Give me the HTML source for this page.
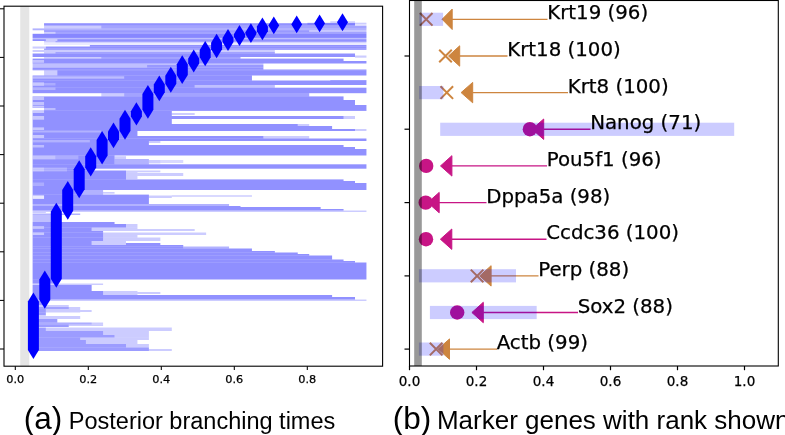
<!DOCTYPE html>
<html><head><meta charset="utf-8"><title>figure</title>
<style>html,body{margin:0;padding:0;background:#fff;}body{width:785px;height:435px;overflow:hidden;}svg{display:block;}.tk{font-family:"DejaVu Sans","Liberation Sans",sans-serif;fill:#000;stroke:#000;stroke-width:0.25px;}.cap{font-family:"Liberation Sans",Arial,Helvetica,sans-serif;fill:#000;}</style></head><body>
<svg width="785" height="435" viewBox="0 0 785 435">
<rect x="0" y="0" width="785" height="435" fill="#fff"/>
<g id="left">
<rect x="20.2" y="6.2" width="9.1" height="360.0" fill="#000" fill-opacity="0.1"/>
<g fill="#0000ff">
<rect x="330.30" y="21.30" width="24.70" height="1.40" fill-opacity="0.200"/>
<rect x="307.40" y="22.70" width="59.05" height="1.90" fill-opacity="0.200"/>
<rect x="44.05" y="23.20" width="310.95" height="2.40" fill-opacity="0.430"/>
<rect x="44.05" y="25.60" width="322.40" height="2.80" fill-opacity="0.200"/>
<rect x="101.30" y="25.60" width="265.15" height="2.80" fill-opacity="0.200"/>
<rect x="32.60" y="28.40" width="333.85" height="1.90" fill-opacity="0.300"/>
<rect x="44.05" y="30.30" width="265.15" height="1.50" fill-opacity="0.430"/>
<rect x="309.20" y="30.30" width="57.25" height="1.50" fill-opacity="0.200"/>
<rect x="44.05" y="31.80" width="322.40" height="2.00" fill-opacity="0.200"/>
<rect x="55.50" y="31.80" width="310.95" height="2.00" fill-opacity="0.200"/>
<rect x="32.60" y="33.80" width="333.85" height="4.10" fill-opacity="0.470"/>
<rect x="32.60" y="37.90" width="333.85" height="1.30" fill-opacity="0.250"/>
<rect x="32.60" y="39.20" width="13.25" height="1.80" fill-opacity="0.430"/>
<rect x="45.85" y="39.20" width="11.45" height="1.80" fill-opacity="0.200"/>
<rect x="57.30" y="39.20" width="309.15" height="1.80" fill-opacity="0.430"/>
<rect x="44.05" y="41.00" width="322.40" height="1.30" fill-opacity="0.200"/>
<rect x="55.50" y="41.00" width="310.95" height="1.30" fill-opacity="0.200"/>
<rect x="44.05" y="42.30" width="322.40" height="2.70" fill-opacity="0.080"/>
<rect x="89.85" y="45.00" width="276.60" height="1.50" fill-opacity="0.430"/>
<rect x="32.60" y="46.50" width="13.25" height="2.10" fill-opacity="0.200"/>
<rect x="45.85" y="46.50" width="320.60" height="2.10" fill-opacity="0.430"/>
<rect x="44.05" y="48.60" width="322.40" height="1.40" fill-opacity="0.360"/>
<rect x="32.60" y="50.00" width="13.25" height="2.00" fill-opacity="0.200"/>
<rect x="45.85" y="50.00" width="229.00" height="2.00" fill-opacity="0.200"/>
<rect x="44.05" y="52.00" width="230.80" height="1.50" fill-opacity="0.200"/>
<rect x="55.50" y="52.00" width="219.35" height="1.50" fill-opacity="0.200"/>
<rect x="32.60" y="53.50" width="322.40" height="3.50" fill-opacity="0.430"/>
<rect x="355.00" y="55.50" width="11.45" height="2.20" fill-opacity="0.200"/>
<rect x="44.05" y="57.00" width="196.45" height="1.60" fill-opacity="0.200"/>
<rect x="101.30" y="57.00" width="139.20" height="1.60" fill-opacity="0.200"/>
<rect x="32.60" y="58.60" width="310.95" height="2.40" fill-opacity="0.430"/>
<rect x="32.60" y="61.00" width="333.85" height="2.50" fill-opacity="0.430"/>
<rect x="32.60" y="63.50" width="230.80" height="4.20" fill-opacity="0.250"/>
<rect x="147.10" y="65.00" width="116.30" height="2.50" fill-opacity="0.200"/>
<rect x="32.60" y="67.70" width="230.80" height="1.80" fill-opacity="0.430"/>
<rect x="32.60" y="69.50" width="333.85" height="0.80" fill-opacity="0.430"/>
<rect x="44.05" y="70.30" width="13.25" height="5.20" fill-opacity="0.200"/>
<rect x="57.30" y="70.30" width="309.15" height="5.20" fill-opacity="0.430"/>
<rect x="32.60" y="75.50" width="219.35" height="5.00" fill-opacity="0.430"/>
<rect x="330.30" y="80.00" width="36.15" height="1.00" fill-opacity="0.200"/>
<rect x="32.60" y="80.50" width="333.85" height="4.50" fill-opacity="0.430"/>
<rect x="32.60" y="85.00" width="162.10" height="2.70" fill-opacity="0.430"/>
<rect x="194.70" y="85.00" width="80.15" height="2.70" fill-opacity="0.250"/>
<rect x="32.60" y="87.70" width="333.85" height="5.50" fill-opacity="0.430"/>
<rect x="101.30" y="93.20" width="207.90" height="3.20" fill-opacity="0.200"/>
<rect x="124.20" y="93.20" width="185.00" height="3.20" fill-opacity="0.200"/>
<rect x="32.60" y="96.40" width="310.95" height="3.60" fill-opacity="0.430"/>
<rect x="32.60" y="100.00" width="322.40" height="5.00" fill-opacity="0.430"/>
<rect x="32.60" y="105.00" width="333.85" height="2.00" fill-opacity="0.430"/>
<rect x="32.60" y="107.00" width="333.85" height="1.00" fill-opacity="0.430"/>
<rect x="44.05" y="108.00" width="322.40" height="2.40" fill-opacity="0.430"/>
<rect x="32.60" y="110.40" width="333.85" height="0.60" fill-opacity="0.430"/>
<rect x="32.60" y="111.00" width="139.20" height="2.00" fill-opacity="0.430"/>
<rect x="32.60" y="113.00" width="139.20" height="2.00" fill-opacity="0.430"/>
<rect x="171.80" y="113.00" width="22.90" height="2.00" fill-opacity="0.200"/>
<rect x="32.60" y="115.00" width="139.20" height="1.00" fill-opacity="0.430"/>
<rect x="32.60" y="116.00" width="310.95" height="3.00" fill-opacity="0.430"/>
<rect x="343.55" y="116.00" width="11.45" height="3.00" fill-opacity="0.200"/>
<rect x="32.60" y="119.00" width="139.20" height="5.00" fill-opacity="0.430"/>
<rect x="32.60" y="124.00" width="265.15" height="2.00" fill-opacity="0.430"/>
<rect x="297.75" y="124.00" width="11.45" height="2.00" fill-opacity="0.200"/>
<rect x="32.60" y="126.00" width="299.50" height="3.00" fill-opacity="0.430"/>
<rect x="32.60" y="129.00" width="322.40" height="2.00" fill-opacity="0.430"/>
<rect x="355.00" y="129.00" width="11.45" height="2.00" fill-opacity="0.200"/>
<rect x="32.60" y="131.00" width="104.85" height="5.00" fill-opacity="0.430"/>
<rect x="32.60" y="136.00" width="230.80" height="2.50" fill-opacity="0.430"/>
<rect x="263.40" y="136.00" width="45.80" height="2.50" fill-opacity="0.200"/>
<rect x="32.60" y="138.50" width="333.85" height="2.50" fill-opacity="0.430"/>
<rect x="32.60" y="141.00" width="116.30" height="4.00" fill-opacity="0.430"/>
<rect x="148.90" y="141.00" width="11.45" height="2.00" fill-opacity="0.200"/>
<rect x="32.60" y="145.00" width="310.95" height="2.00" fill-opacity="0.430"/>
<rect x="32.60" y="147.00" width="322.40" height="2.00" fill-opacity="0.430"/>
<rect x="32.60" y="149.00" width="333.85" height="6.50" fill-opacity="0.430"/>
<rect x="32.60" y="155.50" width="81.95" height="3.50" fill-opacity="0.430"/>
<rect x="114.55" y="156.20" width="11.45" height="2.80" fill-opacity="0.200"/>
<rect x="32.60" y="159.00" width="81.95" height="5.30" fill-opacity="0.430"/>
<rect x="114.55" y="159.00" width="34.35" height="5.30" fill-opacity="0.300"/>
<rect x="148.90" y="160.00" width="11.45" height="3.40" fill-opacity="0.200"/>
<rect x="160.35" y="160.00" width="22.90" height="3.00" fill-opacity="0.150"/>
<rect x="32.60" y="164.30" width="333.85" height="4.40" fill-opacity="0.430"/>
<rect x="32.60" y="168.70" width="59.05" height="1.80" fill-opacity="0.430"/>
<rect x="32.60" y="170.50" width="93.40" height="5.50" fill-opacity="0.430"/>
<rect x="126.00" y="170.50" width="34.35" height="1.80" fill-opacity="0.200"/>
<rect x="126.00" y="172.30" width="11.45" height="6.70" fill-opacity="0.200"/>
<rect x="137.45" y="173.00" width="45.80" height="3.00" fill-opacity="0.200"/>
<rect x="32.60" y="176.00" width="93.40" height="3.40" fill-opacity="0.430"/>
<rect x="32.60" y="179.40" width="310.95" height="1.60" fill-opacity="0.430"/>
<rect x="32.60" y="181.00" width="322.40" height="2.00" fill-opacity="0.430"/>
<rect x="32.60" y="183.00" width="333.85" height="7.00" fill-opacity="0.430"/>
<rect x="32.60" y="190.00" width="47.60" height="4.60" fill-opacity="0.430"/>
<rect x="80.20" y="190.00" width="22.90" height="4.60" fill-opacity="0.300"/>
<rect x="103.10" y="192.00" width="11.45" height="1.70" fill-opacity="0.200"/>
<rect x="32.60" y="194.60" width="116.30" height="5.40" fill-opacity="0.430"/>
<rect x="148.90" y="195.50" width="22.90" height="2.50" fill-opacity="0.200"/>
<rect x="171.80" y="195.00" width="80.15" height="2.00" fill-opacity="0.150"/>
<rect x="32.60" y="200.00" width="116.30" height="4.00" fill-opacity="0.430"/>
<rect x="32.60" y="204.00" width="196.45" height="2.00" fill-opacity="0.300"/>
<rect x="32.60" y="206.00" width="207.90" height="1.00" fill-opacity="0.430"/>
<rect x="32.60" y="207.00" width="288.05" height="2.00" fill-opacity="0.430"/>
<rect x="32.60" y="209.00" width="310.95" height="1.50" fill-opacity="0.430"/>
<rect x="32.60" y="210.50" width="333.85" height="1.50" fill-opacity="0.200"/>
<rect x="32.60" y="212.00" width="13.25" height="1.00" fill-opacity="0.200"/>
<rect x="32.60" y="213.50" width="47.60" height="1.50" fill-opacity="0.300"/>
<rect x="32.60" y="215.00" width="24.70" height="7.00" fill-opacity="0.250"/>
<rect x="32.60" y="222.00" width="81.95" height="2.00" fill-opacity="0.430"/>
<rect x="32.60" y="224.00" width="93.40" height="3.50" fill-opacity="0.430"/>
<rect x="126.00" y="224.00" width="11.45" height="3.50" fill-opacity="0.200"/>
<rect x="32.60" y="227.50" width="59.05" height="1.50" fill-opacity="0.430"/>
<rect x="91.65" y="227.50" width="45.80" height="1.50" fill-opacity="0.200"/>
<rect x="32.60" y="229.00" width="59.05" height="2.00" fill-opacity="0.430"/>
<rect x="91.65" y="229.00" width="103.05" height="2.00" fill-opacity="0.200"/>
<rect x="32.60" y="231.00" width="70.50" height="1.50" fill-opacity="0.430"/>
<rect x="32.60" y="232.50" width="70.50" height="2.50" fill-opacity="0.430"/>
<rect x="103.10" y="232.50" width="103.05" height="2.50" fill-opacity="0.200"/>
<rect x="32.60" y="235.00" width="70.50" height="2.50" fill-opacity="0.430"/>
<rect x="103.10" y="235.00" width="34.35" height="2.50" fill-opacity="0.200"/>
<rect x="32.60" y="237.50" width="70.50" height="3.50" fill-opacity="0.430"/>
<rect x="103.10" y="237.50" width="57.25" height="3.50" fill-opacity="0.200"/>
<rect x="32.60" y="241.00" width="59.05" height="2.00" fill-opacity="0.430"/>
<rect x="91.65" y="241.00" width="34.35" height="2.00" fill-opacity="0.200"/>
<rect x="32.60" y="243.00" width="59.05" height="2.00" fill-opacity="0.430"/>
<rect x="91.65" y="243.00" width="34.35" height="2.00" fill-opacity="0.200"/>
<rect x="126.00" y="243.00" width="34.35" height="2.00" fill-opacity="0.430"/>
<rect x="32.60" y="245.00" width="150.65" height="1.50" fill-opacity="0.430"/>
<rect x="32.60" y="246.50" width="150.65" height="2.00" fill-opacity="0.430"/>
<rect x="183.25" y="246.50" width="45.80" height="2.00" fill-opacity="0.300"/>
<rect x="32.60" y="248.50" width="219.35" height="2.50" fill-opacity="0.430"/>
<rect x="32.60" y="251.00" width="242.25" height="1.50" fill-opacity="0.430"/>
<rect x="32.60" y="252.50" width="265.15" height="1.50" fill-opacity="0.430"/>
<rect x="32.60" y="254.00" width="276.60" height="1.50" fill-opacity="0.430"/>
<rect x="32.60" y="255.50" width="299.50" height="4.00" fill-opacity="0.430"/>
<rect x="32.60" y="259.50" width="310.95" height="1.50" fill-opacity="0.430"/>
<rect x="32.60" y="261.00" width="322.40" height="1.50" fill-opacity="0.430"/>
<rect x="32.60" y="262.50" width="333.85" height="17.00" fill-opacity="0.440"/>
<rect x="32.60" y="279.50" width="24.70" height="4.00" fill-opacity="0.430"/>
<rect x="32.60" y="283.50" width="70.50" height="1.50" fill-opacity="0.200"/>
<rect x="32.60" y="285.00" width="59.05" height="6.00" fill-opacity="0.430"/>
<rect x="32.60" y="291.00" width="70.50" height="4.00" fill-opacity="0.430"/>
<rect x="103.10" y="291.00" width="34.35" height="4.00" fill-opacity="0.200"/>
<rect x="137.45" y="292.00" width="22.90" height="2.00" fill-opacity="0.200"/>
<rect x="32.60" y="295.00" width="299.50" height="2.00" fill-opacity="0.430"/>
<rect x="32.60" y="297.00" width="322.40" height="2.50" fill-opacity="0.430"/>
<rect x="32.60" y="299.50" width="333.85" height="1.50" fill-opacity="0.200"/>
<rect x="32.60" y="301.00" width="13.25" height="4.00" fill-opacity="0.390"/>
<rect x="32.60" y="305.00" width="36.15" height="4.00" fill-opacity="0.200"/>
<rect x="32.60" y="307.00" width="47.60" height="2.00" fill-opacity="0.200"/>
<rect x="32.60" y="309.00" width="13.25" height="3.50" fill-opacity="0.390"/>
<rect x="45.85" y="309.00" width="34.35" height="3.50" fill-opacity="0.200"/>
<rect x="80.20" y="310.00" width="11.45" height="2.00" fill-opacity="0.200"/>
<rect x="32.60" y="312.50" width="13.25" height="3.00" fill-opacity="0.390"/>
<rect x="32.60" y="316.00" width="47.60" height="3.00" fill-opacity="0.200"/>
<rect x="32.60" y="319.00" width="24.70" height="3.50" fill-opacity="0.390"/>
<rect x="32.60" y="322.50" width="70.50" height="2.00" fill-opacity="0.200"/>
<rect x="32.60" y="322.50" width="59.05" height="2.00" fill-opacity="0.150"/>
<rect x="32.60" y="324.50" width="36.15" height="2.50" fill-opacity="0.390"/>
<rect x="68.75" y="324.50" width="34.35" height="1.50" fill-opacity="0.200"/>
<rect x="32.60" y="327.50" width="13.25" height="3.50" fill-opacity="0.390"/>
<rect x="45.85" y="327.50" width="125.95" height="3.50" fill-opacity="0.200"/>
<rect x="32.60" y="331.00" width="70.50" height="4.00" fill-opacity="0.390"/>
<rect x="103.10" y="331.00" width="45.80" height="4.00" fill-opacity="0.200"/>
<rect x="32.60" y="335.00" width="81.95" height="2.50" fill-opacity="0.390"/>
<rect x="114.55" y="335.00" width="34.35" height="2.50" fill-opacity="0.200"/>
<rect x="32.60" y="337.50" width="47.60" height="2.50" fill-opacity="0.390"/>
<rect x="80.20" y="337.50" width="68.70" height="2.50" fill-opacity="0.200"/>
<rect x="32.60" y="340.00" width="53.32" height="4.00" fill-opacity="0.390"/>
<rect x="85.92" y="340.00" width="51.52" height="4.00" fill-opacity="0.200"/>
<rect x="32.60" y="344.00" width="93.40" height="3.50" fill-opacity="0.390"/>
<rect x="126.00" y="344.00" width="22.90" height="3.50" fill-opacity="0.200"/>
<rect x="32.60" y="347.50" width="116.30" height="1.50" fill-opacity="0.390"/>
<rect x="32.60" y="349.00" width="116.30" height="2.00" fill-opacity="0.390"/>
<rect x="148.90" y="349.00" width="22.90" height="2.00" fill-opacity="0.200"/>
</g>
<g fill="#ffffff">
<rect x="32.60" y="60.00" width="11.45" height="2.80" fill-opacity="0.45"/>
<rect x="32.60" y="76.30" width="91.60" height="2.40" fill-opacity="0.40"/>
<rect x="32.60" y="82.40" width="11.45" height="3.40" fill-opacity="0.50"/>
<rect x="44.05" y="83.00" width="11.45" height="2.50" fill-opacity="0.25"/>
<rect x="32.60" y="87.50" width="22.90" height="2.50" fill-opacity="0.30"/>
<rect x="32.60" y="96.70" width="11.45" height="3.30" fill-opacity="0.45"/>
<rect x="32.60" y="102.00" width="11.45" height="3.00" fill-opacity="0.45"/>
<rect x="32.60" y="105.70" width="11.45" height="2.10" fill-opacity="0.50"/>
<rect x="44.05" y="108.00" width="11.45" height="2.00" fill-opacity="0.40"/>
<rect x="32.60" y="110.40" width="11.45" height="2.60" fill-opacity="0.50"/>
<rect x="32.60" y="116.00" width="11.45" height="3.70" fill-opacity="0.50"/>
<rect x="32.60" y="127.40" width="11.45" height="2.60" fill-opacity="0.50"/>
<rect x="32.60" y="130.50" width="68.70" height="2.00" fill-opacity="0.30"/>
<rect x="32.60" y="135.00" width="11.45" height="3.00" fill-opacity="0.50"/>
<rect x="32.60" y="140.00" width="57.25" height="2.40" fill-opacity="0.30"/>
<rect x="32.60" y="145.00" width="11.45" height="2.50" fill-opacity="0.40"/>
<rect x="32.60" y="155.60" width="22.90" height="3.80" fill-opacity="0.45"/>
<rect x="55.50" y="155.60" width="22.90" height="3.80" fill-opacity="0.25"/>
<rect x="32.60" y="167.50" width="11.45" height="4.00" fill-opacity="0.45"/>
<rect x="44.05" y="167.50" width="22.90" height="4.00" fill-opacity="0.25"/>
<rect x="32.60" y="182.50" width="11.45" height="3.50" fill-opacity="0.25"/>
<rect x="32.60" y="195.40" width="11.45" height="3.50" fill-opacity="0.80"/>
<rect x="32.60" y="226.00" width="11.45" height="3.00" fill-opacity="0.40"/>
<rect x="32.60" y="232.50" width="11.45" height="2.50" fill-opacity="0.50"/>
</g>
<g fill="#0000ff">
<polygon points="33.4,292.5 38.9,301.5 38.9,350.0 33.4,359.0 27.9,350.0 27.9,301.5"/>
<polygon points="44.8,270.6 50.3,279.6 50.3,299.8 44.8,308.8 39.3,299.8 39.3,279.6"/>
<polygon points="56.3,202.8 61.8,211.8 61.8,278.8 56.3,287.8 50.8,278.8 50.8,211.8"/>
<polygon points="67.8,181.0 73.2,190.0 73.2,210.7 67.8,219.7 62.2,210.7 62.2,190.0"/>
<polygon points="79.2,160.3 84.7,169.3 84.7,189.3 79.2,198.3 73.7,189.3 73.7,169.3"/>
<polygon points="90.7,147.2 96.2,156.2 96.2,167.6 90.7,176.6 85.2,167.6 85.2,156.2"/>
<polygon points="102.1,131.0 107.6,140.0 107.6,155.5 102.1,164.5 96.6,155.5 96.6,140.0"/>
<polygon points="113.5,122.4 119.0,131.4 119.0,139.3 113.5,148.3 108.0,139.3 108.0,131.4"/>
<polygon points="125.0,109.7 130.5,118.7 130.5,130.7 125.0,139.7 119.5,130.7 119.5,118.7"/>
<polygon points="136.4,102.2 141.9,111.2 141.9,116.5 136.4,125.5 130.9,116.5 130.9,111.2"/>
<polygon points="147.9,84.9 153.4,93.9 153.4,109.7 147.9,118.7 142.4,109.7 142.4,93.9"/>
<polygon points="159.3,75.4 164.8,84.4 164.8,92.3 159.3,101.3 153.8,92.3 153.8,84.4"/>
<polygon points="170.8,66.8 176.3,75.8 176.3,83.7 170.8,92.7 165.3,83.7 165.3,75.8"/>
<polygon points="182.2,55.3 187.8,64.3 187.8,75.0 182.2,84.0 176.8,75.0 176.8,64.3"/>
<polygon points="193.7,49.6 199.2,58.6 199.2,63.5 193.7,72.5 188.2,63.5 188.2,58.6"/>
<polygon points="205.2,40.9 210.7,49.9 210.7,57.2 205.2,66.2 199.7,57.2 199.7,49.9"/>
<polygon points="216.6,33.7 222.1,42.7 222.1,49.2 216.6,58.2 211.1,49.2 211.1,42.7"/>
<polygon points="228.0,28.9 233.5,37.9 233.5,42.0 228.0,51.0 222.5,42.0 222.5,37.9"/>
<polygon points="239.5,25.1 245.0,34.1 245.0,37.1 239.5,46.1 234.0,37.1 234.0,34.1"/>
<polygon points="250.9,23.3 256.4,32.3 256.4,34.0 250.9,43.0 245.4,34.0 245.4,32.3"/>
<polygon points="262.4,17.4 267.9,26.4 267.9,31.2 262.4,40.2 256.9,31.2 256.9,26.4"/>
<polygon points="273.8,16.5 279.3,25.5 279.3,25.2 273.8,34.2 268.3,25.2 268.3,25.5"/>
<polygon points="296.7,15.5 302.2,24.5 302.2,24.3 296.7,33.3 291.2,24.3 291.2,24.5"/>
<polygon points="319.6,14.6 325.1,23.6 325.1,23.3 319.6,32.3 314.1,23.3 314.1,23.6"/>
<polygon points="342.5,13.2 348.0,22.2 348.0,22.2 342.5,31.2 337.0,22.2 337.0,22.2"/>
</g>
<rect x="4.0" y="6.2" width="378.6" height="360.0" fill="none" stroke="#000" stroke-width="1.1"/>
<g stroke="#000" stroke-width="1.05">
<line x1="0" y1="349.0" x2="4.0" y2="349.0"/>
<line x1="0" y1="300.4" x2="4.0" y2="300.4"/>
<line x1="0" y1="251.8" x2="4.0" y2="251.8"/>
<line x1="0" y1="203.2" x2="4.0" y2="203.2"/>
<line x1="0" y1="154.6" x2="4.0" y2="154.6"/>
<line x1="0" y1="106.0" x2="4.0" y2="106.0"/>
<line x1="0" y1="57.4" x2="4.0" y2="57.4"/>
<line x1="0" y1="8.8" x2="4.0" y2="8.8"/>
<line x1="15.3" y1="366.2" x2="15.3" y2="369.9"/>
<line x1="88.3" y1="366.2" x2="88.3" y2="369.9"/>
<line x1="161.3" y1="366.2" x2="161.3" y2="369.9"/>
<line x1="234.3" y1="366.2" x2="234.3" y2="369.9"/>
<line x1="307.3" y1="366.2" x2="307.3" y2="369.9"/>
</g>
<g class="tk" font-size="11.3" text-anchor="middle">
<text x="15.3" y="383">0.0</text>
<text x="88.3" y="383">0.2</text>
<text x="161.3" y="383">0.4</text>
<text x="234.3" y="383">0.6</text>
<text x="307.3" y="383">0.8</text>
</g>
</g>
<g id="right">
<line x1="452.0" y1="19.3" x2="547.5" y2="19.3" stroke="#cd853f" stroke-width="1.35"/>
<polygon points="442.1,19.3 452.2,9.1 452.2,29.5" fill="#cd853f" stroke="#cd853f" stroke-width="1" stroke-linejoin="miter"/>
<path d="M419.9 13.0L432.5 25.6M419.9 25.6L432.5 13.0" stroke="#cd853f" stroke-width="2" fill="none"/>
<rect x="419.3" y="12.7" width="23.8" height="13.2" fill="#0000ff" fill-opacity="0.2"/>
<line x1="459.5" y1="56.0" x2="507.5" y2="56.0" stroke="#cd853f" stroke-width="1.35"/>
<polygon points="448.5,56.0 459.7,45.8 459.7,66.2" fill="#cd853f" stroke="#cd853f" stroke-width="1" stroke-linejoin="miter"/>
<path d="M439.2 49.7L451.8 62.2M439.2 62.2L451.8 49.7" stroke="#cd853f" stroke-width="2" fill="none"/>
<line x1="472.5" y1="92.6" x2="568.0" y2="92.6" stroke="#cd853f" stroke-width="1.35"/>
<polygon points="461.1,92.6 472.7,82.4 472.7,102.8" fill="#cd853f" stroke="#cd853f" stroke-width="1" stroke-linejoin="miter"/>
<path d="M440.5 86.3L453.1 98.9M440.5 98.9L453.1 86.3" stroke="#cd853f" stroke-width="2" fill="none"/>
<rect x="419.1" y="86.0" width="24.3" height="13.2" fill="#0000ff" fill-opacity="0.2"/>
<line x1="543.5" y1="129.2" x2="590.5" y2="129.2" stroke="#c71585" stroke-width="1.35"/>
<polygon points="532.0,129.2 543.7,119.0 543.7,139.4" fill="#c71585" stroke="#c71585" stroke-width="1" stroke-linejoin="miter"/>
<circle cx="529.9" cy="129.2" r="7.2" fill="#c71585"/>
<rect x="440.2" y="122.7" width="294.0" height="13.2" fill="#0000ff" fill-opacity="0.2"/>
<line x1="451.7" y1="165.9" x2="547.0" y2="165.9" stroke="#c71585" stroke-width="1.35"/>
<polygon points="440.5,165.9 451.9,155.7 451.9,176.1" fill="#c71585" stroke="#c71585" stroke-width="1" stroke-linejoin="miter"/>
<circle cx="426.2" cy="165.9" r="7.2" fill="#c71585"/>
<line x1="439.0" y1="202.6" x2="486.5" y2="202.6" stroke="#c71585" stroke-width="1.35"/>
<polygon points="427.7,202.6 439.2,192.4 439.2,212.8" fill="#c71585" stroke="#c71585" stroke-width="1" stroke-linejoin="miter"/>
<circle cx="425.7" cy="202.6" r="7.2" fill="#c71585"/>
<line x1="451.6" y1="239.2" x2="546.5" y2="239.2" stroke="#c71585" stroke-width="1.35"/>
<polygon points="440.4,239.2 451.8,229.0 451.8,249.4" fill="#c71585" stroke="#c71585" stroke-width="1" stroke-linejoin="miter"/>
<circle cx="426.0" cy="239.2" r="7.2" fill="#c71585"/>
<line x1="490.9" y1="275.9" x2="538.5" y2="275.9" stroke="#cd853f" stroke-width="1.35"/>
<polygon points="479.7,275.9 491.1,265.7 491.1,286.1" fill="#cd853f" stroke="#cd853f" stroke-width="1" stroke-linejoin="miter"/>
<path d="M470.8 269.6L483.4 282.2M470.8 282.2L483.4 269.6" stroke="#cd853f" stroke-width="2" fill="none"/>
<rect x="418.9" y="269.2" width="97.1" height="13.2" fill="#0000ff" fill-opacity="0.2"/>
<line x1="483.1" y1="312.5" x2="578.0" y2="312.5" stroke="#c71585" stroke-width="1.35"/>
<polygon points="471.9,312.5 483.3,302.3 483.3,322.7" fill="#c71585" stroke="#c71585" stroke-width="1" stroke-linejoin="miter"/>
<circle cx="457.2" cy="312.5" r="7.2" fill="#c71585"/>
<rect x="429.9" y="305.9" width="106.8" height="13.2" fill="#0000ff" fill-opacity="0.2"/>
<line x1="449.3" y1="349.1" x2="497.0" y2="349.1" stroke="#cd853f" stroke-width="1.35"/>
<polygon points="438.1,349.1 449.5,338.9 449.5,359.3" fill="#cd853f" stroke="#cd853f" stroke-width="1" stroke-linejoin="miter"/>
<path d="M429.8 342.8L442.4 355.4M429.8 355.4L442.4 342.8" stroke="#cd853f" stroke-width="2" fill="none"/>
<rect x="418.9" y="342.5" width="24.5" height="13.2" fill="#0000ff" fill-opacity="0.2"/>
<rect x="414.2" y="0.5" width="7.6" height="365.5" fill="#000" fill-opacity="0.4"/>
<g class="tk" font-size="19.8">
<text x="547.2" y="19.4">Krt19 (96)</text>
<text x="507.2" y="56.1">Krt18 (100)</text>
<text x="567.7" y="92.7">Krt8 (100)</text>
<text x="590.2" y="129.3">Nanog (71)</text>
<text x="546.7" y="166.0">Pou5f1 (96)</text>
<text x="486.2" y="202.7">Dppa5a (98)</text>
<text x="546.2" y="239.3">Ccdc36 (100)</text>
<text x="538.2" y="276.0">Perp (88)</text>
<text x="577.7" y="312.6">Sox2 (88)</text>
<text x="496.7" y="349.2">Actb (99)</text>
</g>
<rect x="409.5" y="0.5" width="368.8" height="365.5" fill="none" stroke="#000" stroke-width="1.1"/>
<g stroke="#000" stroke-width="1.2">
<line x1="404.5" y1="56.0" x2="409.5" y2="56.0"/>
<line x1="404.5" y1="129.2" x2="409.5" y2="129.2"/>
<line x1="404.5" y1="202.6" x2="409.5" y2="202.6"/>
<line x1="404.5" y1="275.9" x2="409.5" y2="275.9"/>
<line x1="404.5" y1="349.1" x2="409.5" y2="349.1"/>
<line x1="409.5" y1="366.0" x2="409.5" y2="370.2"/>
<line x1="476.5" y1="366.0" x2="476.5" y2="370.2"/>
<line x1="543.5" y1="366.0" x2="543.5" y2="370.2"/>
<line x1="610.5" y1="366.0" x2="610.5" y2="370.2"/>
<line x1="677.5" y1="366.0" x2="677.5" y2="370.2"/>
<line x1="744.5" y1="366.0" x2="744.5" y2="370.2"/>
</g>
<g class="tk" font-size="13.5" text-anchor="middle">
<text x="409.5" y="386">0.0</text>
<text x="476.5" y="386">0.2</text>
<text x="543.5" y="386">0.4</text>
<text x="610.5" y="386">0.6</text>
<text x="677.5" y="386">0.8</text>
<text x="744.5" y="386">1.0</text>
</g>
</g>
<text class="cap" x="23.7" y="428.5" font-size="31.5">(a)</text>
<text class="cap" x="68.8" y="428.5" font-size="23.5">Posterior branching times</text>
<text class="cap" x="392.7" y="428.5" font-size="31.5">(b)</text>
<text class="cap" x="436.9" y="428.5" font-size="26.0">Marker genes with rank shown</text>
</svg></body></html>
